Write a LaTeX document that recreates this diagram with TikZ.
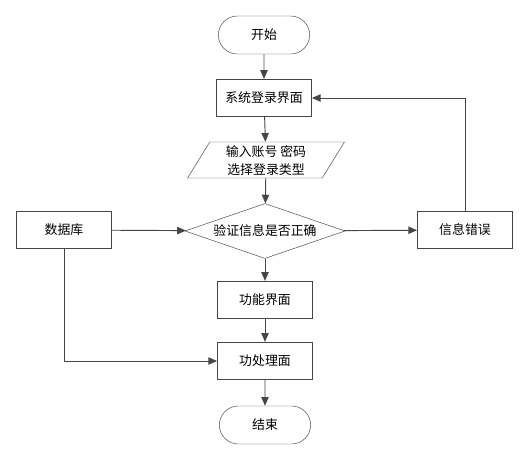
\documentclass[tikz,border=0pt]{standalone}
\usepackage{fontspec}
\setmainfont{Noto Sans CJK SC}
\usepackage{tikz}
\usetikzlibrary{arrows.meta,shapes.geometric,shapes.misc}
\definecolor{lineGray}{RGB}{70,70,70}

\begin{document}
\begin{tikzpicture}[
  x=0.03cm, y=-0.03cm,
  font=\fontsize{11}{16}\selectfont,
  term/.style={draw=lineGray, rounded rectangle, minimum width=2.88cm,
               minimum height=1.14cm, inner sep=2pt},
  proc/.style={draw=lineGray, thick, fill=white, minimum width=2.85cm,
               minimum height=1.12cm, inner sep=2pt},
  io/.style={draw=lineGray, trapezium, trapezium left angle=63,
             trapezium right angle=117, trapezium stretches=true,
             minimum width=4.74cm, minimum height=1.08cm, inner sep=1pt,
             align=center, text depth=0pt},
  decide/.style={draw=lineGray, diamond, minimum width=4.8cm,
                 minimum height=1.65cm, inner sep=0pt, aspect=2.9},
  arr/.style={-{Triangle[length=2.6mm,width=2.2mm]}, thick, lineGray},
  ln/.style={thick, lineGray}
]
\useasboundingbox (0,0) rectangle (524,454);

\node[term]   (start) at (264,35)  {开始};
\node[proc]   (login) at (264,98)  {系统登录界面};
\node[io]     (input) at (266,160) {输入账号 密码\\选择登录类型};
\node[decide] (check) at (265,231) {验证信息是否正确};
\node[proc]   (db)    at (64,230)  {数据库};
\node[proc]   (err)   at (465,230) {信息错误};
\node[proc]   (func)  at (265,300) {功能界面};
\node[proc]   (work)  at (265,361) {功处理面};
\node[term]   (stop)  at (265,425) {结束};

\draw[arr] (start) -- (login);
\draw[arr] (login) -- (input);
\draw[arr] (input) -- (check);
\draw[arr] (db) -- (check);
\draw[arr] (check) -- (err);
\draw[arr] (check) -- (func);
\draw[arr] (func) -- (work);
\draw[arr] (work) -- (stop);
\draw[arr] (err.north) |- (login.east);
\draw[arr] (db.south) |- (work.west);

\end{tikzpicture}
\end{document}
